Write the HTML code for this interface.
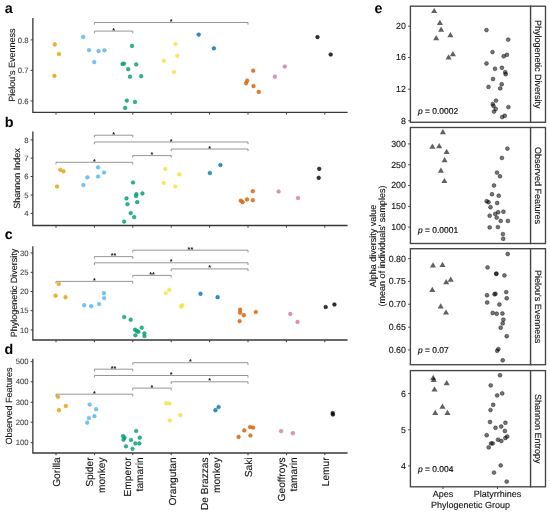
<!DOCTYPE html>
<html><head><meta charset="utf-8"><style>
*{margin:0;padding:0}
html,body{width:550px;height:514px;background:#fff;overflow:hidden}
svg{display:block;filter:blur(0.35px)}
text{font-family:"Liberation Sans",sans-serif;text-rendering:geometricPrecision}
.tk{font-size:7.7px;fill:#444;stroke:#444;stroke-width:0.1px;text-anchor:end}
.yt{font-size:9px;fill:#111;stroke:#111;stroke-width:0.1px;text-anchor:middle}
.st{font-size:7.2px;font-weight:bold;fill:#111;text-anchor:middle}
.pl{font-size:14.3px;font-weight:bold;fill:#000}
.xl{font-size:10.2px;fill:#111;stroke:#111;stroke-width:0.12px;text-anchor:end}
.sx{font-size:9px;fill:#111;stroke:#111;stroke-width:0.12px;text-anchor:middle}
.tke{font-size:8.8px;fill:#111;stroke:#111;stroke-width:0.12px;text-anchor:end}
.pv{font-size:8.45px;fill:#000;stroke:#000;stroke-width:0.15px}
.ex{font-size:9px;fill:#111;stroke:#111;stroke-width:0.12px;text-anchor:middle}
</style></head>
<body><svg width="550" height="514" viewBox="0 0 550 514">
<path d="M32.85 18.0V112.3H347.6" fill="none" stroke="#383838" stroke-width="1.3"/>
<path d="M30.65 39.9H32.85" stroke="#383838" stroke-width="1"/>
<text x="28.55" y="42.5" class="tk">0.8</text>
<path d="M30.65 70.4H32.85" stroke="#383838" stroke-width="1"/>
<text x="28.55" y="73.0" class="tk">0.7</text>
<path d="M30.65 101.0H32.85" stroke="#383838" stroke-width="1"/>
<text x="28.55" y="103.6" class="tk">0.6</text>
<path d="M56.0 112.3V114.5" stroke="#383838" stroke-width="1"/>
<path d="M94.4 112.3V114.5" stroke="#383838" stroke-width="1"/>
<path d="M132.8 112.3V114.5" stroke="#383838" stroke-width="1"/>
<path d="M171.2 112.3V114.5" stroke="#383838" stroke-width="1"/>
<path d="M209.6 112.3V114.5" stroke="#383838" stroke-width="1"/>
<path d="M248.0 112.3V114.5" stroke="#383838" stroke-width="1"/>
<path d="M286.4 112.3V114.5" stroke="#383838" stroke-width="1"/>
<path d="M324.8 112.3V114.5" stroke="#383838" stroke-width="1"/>
<text transform="translate(14.7 65.2) rotate(-90)" class="yt">Pielou's Evenness</text>
<path d="M94.4 24.7V22.5H248.0V24.7" fill="none" stroke="#8a8a8a" stroke-width="0.9"/>
<text x="171.2" y="24.0" class="st">*</text>
<path d="M94.4 33.3V31.1H132.8V33.3" fill="none" stroke="#8a8a8a" stroke-width="0.9"/>
<text x="113.6" y="32.6" class="st">*</text>
<circle cx="54.8" cy="44.4" r="1.85" fill="#E69F00" fill-opacity="0.8" stroke="#E69F00" stroke-opacity="0.8" stroke-width="0.6"/>
<circle cx="59" cy="54" r="1.85" fill="#E69F00" fill-opacity="0.8" stroke="#E69F00" stroke-opacity="0.8" stroke-width="0.6"/>
<circle cx="54.4" cy="75.8" r="1.85" fill="#E69F00" fill-opacity="0.8" stroke="#E69F00" stroke-opacity="0.8" stroke-width="0.6"/>
<circle cx="83.2" cy="36.9" r="1.85" fill="#56B4E9" fill-opacity="0.8" stroke="#56B4E9" stroke-opacity="0.8" stroke-width="0.6"/>
<circle cx="89" cy="50.1" r="1.85" fill="#56B4E9" fill-opacity="0.8" stroke="#56B4E9" stroke-opacity="0.8" stroke-width="0.6"/>
<circle cx="98.5" cy="51.1" r="1.85" fill="#56B4E9" fill-opacity="0.8" stroke="#56B4E9" stroke-opacity="0.8" stroke-width="0.6"/>
<circle cx="104.5" cy="50.3" r="1.85" fill="#56B4E9" fill-opacity="0.8" stroke="#56B4E9" stroke-opacity="0.8" stroke-width="0.6"/>
<circle cx="94.2" cy="62.1" r="1.85" fill="#56B4E9" fill-opacity="0.8" stroke="#56B4E9" stroke-opacity="0.8" stroke-width="0.6"/>
<circle cx="132" cy="45.9" r="1.85" fill="#009E73" fill-opacity="0.8" stroke="#009E73" stroke-opacity="0.8" stroke-width="0.6"/>
<circle cx="122.5" cy="64" r="1.85" fill="#009E73" fill-opacity="0.8" stroke="#009E73" stroke-opacity="0.8" stroke-width="0.6"/>
<circle cx="124" cy="63.6" r="1.85" fill="#009E73" fill-opacity="0.8" stroke="#009E73" stroke-opacity="0.8" stroke-width="0.6"/>
<circle cx="136.2" cy="64.4" r="1.85" fill="#009E73" fill-opacity="0.8" stroke="#009E73" stroke-opacity="0.8" stroke-width="0.6"/>
<circle cx="128.2" cy="69.2" r="1.85" fill="#009E73" fill-opacity="0.8" stroke="#009E73" stroke-opacity="0.8" stroke-width="0.6"/>
<circle cx="130" cy="76.7" r="1.85" fill="#009E73" fill-opacity="0.8" stroke="#009E73" stroke-opacity="0.8" stroke-width="0.6"/>
<circle cx="141.2" cy="76.2" r="1.85" fill="#009E73" fill-opacity="0.8" stroke="#009E73" stroke-opacity="0.8" stroke-width="0.6"/>
<circle cx="126.8" cy="100.6" r="1.85" fill="#009E73" fill-opacity="0.8" stroke="#009E73" stroke-opacity="0.8" stroke-width="0.6"/>
<circle cx="135" cy="101.9" r="1.85" fill="#009E73" fill-opacity="0.8" stroke="#009E73" stroke-opacity="0.8" stroke-width="0.6"/>
<circle cx="125.2" cy="107.9" r="1.85" fill="#009E73" fill-opacity="0.8" stroke="#009E73" stroke-opacity="0.8" stroke-width="0.6"/>
<circle cx="175.5" cy="44.1" r="1.85" fill="#F0E442" fill-opacity="0.8" stroke="#F0E442" stroke-opacity="0.8" stroke-width="0.6"/>
<circle cx="177.3" cy="55.8" r="1.85" fill="#F0E442" fill-opacity="0.8" stroke="#F0E442" stroke-opacity="0.8" stroke-width="0.6"/>
<circle cx="163.8" cy="60.8" r="1.85" fill="#F0E442" fill-opacity="0.8" stroke="#F0E442" stroke-opacity="0.8" stroke-width="0.6"/>
<circle cx="174" cy="72" r="1.85" fill="#F0E442" fill-opacity="0.8" stroke="#F0E442" stroke-opacity="0.8" stroke-width="0.6"/>
<circle cx="198.7" cy="34.6" r="1.85" fill="#0072B2" fill-opacity="0.8" stroke="#0072B2" stroke-opacity="0.8" stroke-width="0.6"/>
<circle cx="213.9" cy="48.3" r="1.85" fill="#0072B2" fill-opacity="0.8" stroke="#0072B2" stroke-opacity="0.8" stroke-width="0.6"/>
<circle cx="253.2" cy="70.7" r="1.85" fill="#D55E00" fill-opacity="0.8" stroke="#D55E00" stroke-opacity="0.8" stroke-width="0.6"/>
<circle cx="247.2" cy="80.7" r="1.85" fill="#D55E00" fill-opacity="0.8" stroke="#D55E00" stroke-opacity="0.8" stroke-width="0.6"/>
<circle cx="246" cy="83.3" r="1.85" fill="#D55E00" fill-opacity="0.8" stroke="#D55E00" stroke-opacity="0.8" stroke-width="0.6"/>
<circle cx="253.5" cy="86.1" r="1.85" fill="#D55E00" fill-opacity="0.8" stroke="#D55E00" stroke-opacity="0.8" stroke-width="0.6"/>
<circle cx="258.7" cy="91.9" r="1.85" fill="#D55E00" fill-opacity="0.8" stroke="#D55E00" stroke-opacity="0.8" stroke-width="0.6"/>
<circle cx="284.8" cy="66.5" r="1.85" fill="#CC79A7" fill-opacity="0.8" stroke="#CC79A7" stroke-opacity="0.8" stroke-width="0.6"/>
<circle cx="274.9" cy="76.7" r="1.85" fill="#CC79A7" fill-opacity="0.8" stroke="#CC79A7" stroke-opacity="0.8" stroke-width="0.6"/>
<circle cx="317.5" cy="37.1" r="1.85" fill="#000000" fill-opacity="0.8" stroke="#000000" stroke-opacity="0.8" stroke-width="0.6"/>
<circle cx="330.7" cy="54.5" r="1.85" fill="#000000" fill-opacity="0.8" stroke="#000000" stroke-opacity="0.8" stroke-width="0.6"/>
<path d="M32.85 131.4V225.5H347.6" fill="none" stroke="#383838" stroke-width="1.3"/>
<path d="M30.65 139.9H32.85" stroke="#383838" stroke-width="1"/>
<text x="28.55" y="142.5" class="tk">8</text>
<path d="M30.65 158.1H32.85" stroke="#383838" stroke-width="1"/>
<text x="28.55" y="160.7" class="tk">7</text>
<path d="M30.65 176.5H32.85" stroke="#383838" stroke-width="1"/>
<text x="28.55" y="179.1" class="tk">6</text>
<path d="M30.65 195H32.85" stroke="#383838" stroke-width="1"/>
<text x="28.55" y="197.6" class="tk">5</text>
<path d="M30.65 213.4H32.85" stroke="#383838" stroke-width="1"/>
<text x="28.55" y="216.0" class="tk">4</text>
<path d="M56.0 225.5V227.7" stroke="#383838" stroke-width="1"/>
<path d="M94.4 225.5V227.7" stroke="#383838" stroke-width="1"/>
<path d="M132.8 225.5V227.7" stroke="#383838" stroke-width="1"/>
<path d="M171.2 225.5V227.7" stroke="#383838" stroke-width="1"/>
<path d="M209.6 225.5V227.7" stroke="#383838" stroke-width="1"/>
<path d="M248.0 225.5V227.7" stroke="#383838" stroke-width="1"/>
<path d="M286.4 225.5V227.7" stroke="#383838" stroke-width="1"/>
<path d="M324.8 225.5V227.7" stroke="#383838" stroke-width="1"/>
<text transform="translate(19.6 178.4) rotate(-90)" class="yt">Shannon Index</text>
<path d="M94.4 137.4V135.2H132.8V137.4" fill="none" stroke="#8a8a8a" stroke-width="0.9"/>
<text x="113.6" y="136.7" class="st">*</text>
<path d="M94.4 144.2V142H248.0V144.2" fill="none" stroke="#8a8a8a" stroke-width="0.9"/>
<text x="171.2" y="143.5" class="st">*</text>
<path d="M171.2 151.2V149H248.0V151.2" fill="none" stroke="#8a8a8a" stroke-width="0.9"/>
<text x="209.6" y="150.5" class="st">*</text>
<path d="M132.8 157.8V155.6H171.2V157.8" fill="none" stroke="#8a8a8a" stroke-width="0.9"/>
<text x="152.0" y="157.1" class="st">*</text>
<path d="M56.0 164.5V162.3H132.8V164.5" fill="none" stroke="#8a8a8a" stroke-width="0.9"/>
<text x="94.4" y="163.8" class="st">*</text>
<circle cx="60.3" cy="169.8" r="1.85" fill="#E69F00" fill-opacity="0.8" stroke="#E69F00" stroke-opacity="0.8" stroke-width="0.6"/>
<circle cx="63.5" cy="171.3" r="1.85" fill="#E69F00" fill-opacity="0.8" stroke="#E69F00" stroke-opacity="0.8" stroke-width="0.6"/>
<circle cx="57" cy="186.5" r="1.85" fill="#E69F00" fill-opacity="0.8" stroke="#E69F00" stroke-opacity="0.8" stroke-width="0.6"/>
<circle cx="98.1" cy="167.3" r="1.85" fill="#56B4E9" fill-opacity="0.8" stroke="#56B4E9" stroke-opacity="0.8" stroke-width="0.6"/>
<circle cx="104.1" cy="172.5" r="1.85" fill="#56B4E9" fill-opacity="0.8" stroke="#56B4E9" stroke-opacity="0.8" stroke-width="0.6"/>
<circle cx="87.4" cy="177.3" r="1.85" fill="#56B4E9" fill-opacity="0.8" stroke="#56B4E9" stroke-opacity="0.8" stroke-width="0.6"/>
<circle cx="98.1" cy="176.5" r="1.85" fill="#56B4E9" fill-opacity="0.8" stroke="#56B4E9" stroke-opacity="0.8" stroke-width="0.6"/>
<circle cx="83.4" cy="185" r="1.85" fill="#56B4E9" fill-opacity="0.8" stroke="#56B4E9" stroke-opacity="0.8" stroke-width="0.6"/>
<circle cx="133" cy="182.5" r="1.85" fill="#009E73" fill-opacity="0.8" stroke="#009E73" stroke-opacity="0.8" stroke-width="0.6"/>
<circle cx="126.5" cy="198.4" r="1.85" fill="#009E73" fill-opacity="0.8" stroke="#009E73" stroke-opacity="0.8" stroke-width="0.6"/>
<circle cx="136.4" cy="194.2" r="1.85" fill="#009E73" fill-opacity="0.8" stroke="#009E73" stroke-opacity="0.8" stroke-width="0.6"/>
<circle cx="136" cy="196" r="1.85" fill="#009E73" fill-opacity="0.8" stroke="#009E73" stroke-opacity="0.8" stroke-width="0.6"/>
<circle cx="142.4" cy="193.4" r="1.85" fill="#009E73" fill-opacity="0.8" stroke="#009E73" stroke-opacity="0.8" stroke-width="0.6"/>
<circle cx="127.5" cy="204.2" r="1.85" fill="#009E73" fill-opacity="0.8" stroke="#009E73" stroke-opacity="0.8" stroke-width="0.6"/>
<circle cx="137.2" cy="202.2" r="1.85" fill="#009E73" fill-opacity="0.8" stroke="#009E73" stroke-opacity="0.8" stroke-width="0.6"/>
<circle cx="130.7" cy="213.1" r="1.85" fill="#009E73" fill-opacity="0.8" stroke="#009E73" stroke-opacity="0.8" stroke-width="0.6"/>
<circle cx="134.2" cy="217.1" r="1.85" fill="#009E73" fill-opacity="0.8" stroke="#009E73" stroke-opacity="0.8" stroke-width="0.6"/>
<circle cx="124.2" cy="221.6" r="1.85" fill="#009E73" fill-opacity="0.8" stroke="#009E73" stroke-opacity="0.8" stroke-width="0.6"/>
<circle cx="165.3" cy="169" r="1.85" fill="#F0E442" fill-opacity="0.8" stroke="#F0E442" stroke-opacity="0.8" stroke-width="0.6"/>
<circle cx="179.3" cy="174.3" r="1.85" fill="#F0E442" fill-opacity="0.8" stroke="#F0E442" stroke-opacity="0.8" stroke-width="0.6"/>
<circle cx="163.8" cy="183" r="1.85" fill="#F0E442" fill-opacity="0.8" stroke="#F0E442" stroke-opacity="0.8" stroke-width="0.6"/>
<circle cx="175.3" cy="186.5" r="1.85" fill="#F0E442" fill-opacity="0.8" stroke="#F0E442" stroke-opacity="0.8" stroke-width="0.6"/>
<circle cx="220.4" cy="165" r="1.85" fill="#0072B2" fill-opacity="0.8" stroke="#0072B2" stroke-opacity="0.8" stroke-width="0.6"/>
<circle cx="209.9" cy="173" r="1.85" fill="#0072B2" fill-opacity="0.8" stroke="#0072B2" stroke-opacity="0.8" stroke-width="0.6"/>
<circle cx="252.8" cy="191.2" r="1.85" fill="#D55E00" fill-opacity="0.8" stroke="#D55E00" stroke-opacity="0.8" stroke-width="0.6"/>
<circle cx="247" cy="199.4" r="1.85" fill="#D55E00" fill-opacity="0.8" stroke="#D55E00" stroke-opacity="0.8" stroke-width="0.6"/>
<circle cx="252.8" cy="200.2" r="1.85" fill="#D55E00" fill-opacity="0.8" stroke="#D55E00" stroke-opacity="0.8" stroke-width="0.6"/>
<circle cx="240.8" cy="200.7" r="1.85" fill="#D55E00" fill-opacity="0.8" stroke="#D55E00" stroke-opacity="0.8" stroke-width="0.6"/>
<circle cx="242.6" cy="202.2" r="1.85" fill="#D55E00" fill-opacity="0.8" stroke="#D55E00" stroke-opacity="0.8" stroke-width="0.6"/>
<circle cx="278.6" cy="191.5" r="1.85" fill="#CC79A7" fill-opacity="0.8" stroke="#CC79A7" stroke-opacity="0.8" stroke-width="0.6"/>
<circle cx="298" cy="198" r="1.85" fill="#CC79A7" fill-opacity="0.8" stroke="#CC79A7" stroke-opacity="0.8" stroke-width="0.6"/>
<circle cx="319.2" cy="168.8" r="1.85" fill="#000000" fill-opacity="0.8" stroke="#000000" stroke-opacity="0.8" stroke-width="0.6"/>
<circle cx="318.7" cy="177.8" r="1.85" fill="#000000" fill-opacity="0.8" stroke="#000000" stroke-opacity="0.8" stroke-width="0.6"/>
<path d="M32.85 246.2V340H347.6" fill="none" stroke="#383838" stroke-width="1.3"/>
<path d="M30.65 252.9H32.85" stroke="#383838" stroke-width="1"/>
<text x="28.55" y="255.5" class="tk">30</text>
<path d="M30.65 272.3H32.85" stroke="#383838" stroke-width="1"/>
<text x="28.55" y="274.9" class="tk">25</text>
<path d="M30.65 291.5H32.85" stroke="#383838" stroke-width="1"/>
<text x="28.55" y="294.1" class="tk">20</text>
<path d="M30.65 310.7H32.85" stroke="#383838" stroke-width="1"/>
<text x="28.55" y="313.3" class="tk">15</text>
<path d="M30.65 329.9H32.85" stroke="#383838" stroke-width="1"/>
<text x="28.55" y="332.5" class="tk">10</text>
<path d="M56.0 340V342.2" stroke="#383838" stroke-width="1"/>
<path d="M94.4 340V342.2" stroke="#383838" stroke-width="1"/>
<path d="M132.8 340V342.2" stroke="#383838" stroke-width="1"/>
<path d="M171.2 340V342.2" stroke="#383838" stroke-width="1"/>
<path d="M209.6 340V342.2" stroke="#383838" stroke-width="1"/>
<path d="M248.0 340V342.2" stroke="#383838" stroke-width="1"/>
<path d="M286.4 340V342.2" stroke="#383838" stroke-width="1"/>
<path d="M324.8 340V342.2" stroke="#383838" stroke-width="1"/>
<text transform="translate(17.1 293.1) rotate(-90)" class="yt">Phylogenetic Diversity</text>
<path d="M132.8 252.4V250.2H248.0V252.4" fill="none" stroke="#8a8a8a" stroke-width="0.9"/>
<text x="190.4" y="251.7" class="st">**</text>
<path d="M94.4 258.8V256.6H132.8V258.8" fill="none" stroke="#8a8a8a" stroke-width="0.9"/>
<text x="113.6" y="258.1" class="st">**</text>
<path d="M94.4 265.0V262.8H248.0V265.0" fill="none" stroke="#8a8a8a" stroke-width="0.9"/>
<text x="171.2" y="264.3" class="st">*</text>
<path d="M171.2 271.1V268.9H248.0V271.1" fill="none" stroke="#8a8a8a" stroke-width="0.9"/>
<text x="209.6" y="270.4" class="st">*</text>
<path d="M132.8 277.6V275.4H171.2V277.6" fill="none" stroke="#8a8a8a" stroke-width="0.9"/>
<text x="152.0" y="276.9" class="st">**</text>
<path d="M56.0 283.6V281.4H132.8V283.6" fill="none" stroke="#8a8a8a" stroke-width="0.9"/>
<text x="94.4" y="282.9" class="st">*</text>
<circle cx="58.8" cy="284" r="1.85" fill="#E69F00" fill-opacity="0.8" stroke="#E69F00" stroke-opacity="0.8" stroke-width="0.6"/>
<circle cx="55.5" cy="295.7" r="1.85" fill="#E69F00" fill-opacity="0.8" stroke="#E69F00" stroke-opacity="0.8" stroke-width="0.6"/>
<circle cx="65.5" cy="297.2" r="1.85" fill="#E69F00" fill-opacity="0.8" stroke="#E69F00" stroke-opacity="0.8" stroke-width="0.6"/>
<circle cx="103.9" cy="293.2" r="1.85" fill="#56B4E9" fill-opacity="0.8" stroke="#56B4E9" stroke-opacity="0.8" stroke-width="0.6"/>
<circle cx="104.1" cy="298" r="1.85" fill="#56B4E9" fill-opacity="0.8" stroke="#56B4E9" stroke-opacity="0.8" stroke-width="0.6"/>
<circle cx="84.2" cy="305.2" r="1.85" fill="#56B4E9" fill-opacity="0.8" stroke="#56B4E9" stroke-opacity="0.8" stroke-width="0.6"/>
<circle cx="91.2" cy="306.2" r="1.85" fill="#56B4E9" fill-opacity="0.8" stroke="#56B4E9" stroke-opacity="0.8" stroke-width="0.6"/>
<circle cx="99.1" cy="304" r="1.85" fill="#56B4E9" fill-opacity="0.8" stroke="#56B4E9" stroke-opacity="0.8" stroke-width="0.6"/>
<circle cx="124.2" cy="317" r="1.85" fill="#009E73" fill-opacity="0.8" stroke="#009E73" stroke-opacity="0.8" stroke-width="0.6"/>
<circle cx="130.7" cy="319.7" r="1.85" fill="#009E73" fill-opacity="0.8" stroke="#009E73" stroke-opacity="0.8" stroke-width="0.6"/>
<circle cx="135" cy="329.7" r="1.85" fill="#009E73" fill-opacity="0.8" stroke="#009E73" stroke-opacity="0.8" stroke-width="0.6"/>
<circle cx="136.7" cy="331" r="1.85" fill="#009E73" fill-opacity="0.8" stroke="#009E73" stroke-opacity="0.8" stroke-width="0.6"/>
<circle cx="138.4" cy="331.7" r="1.85" fill="#009E73" fill-opacity="0.8" stroke="#009E73" stroke-opacity="0.8" stroke-width="0.6"/>
<circle cx="141.7" cy="327.7" r="1.85" fill="#009E73" fill-opacity="0.8" stroke="#009E73" stroke-opacity="0.8" stroke-width="0.6"/>
<circle cx="144.4" cy="333.3" r="1.85" fill="#009E73" fill-opacity="0.8" stroke="#009E73" stroke-opacity="0.8" stroke-width="0.6"/>
<circle cx="144.4" cy="336.1" r="1.85" fill="#009E73" fill-opacity="0.8" stroke="#009E73" stroke-opacity="0.8" stroke-width="0.6"/>
<circle cx="135.4" cy="335.3" r="1.85" fill="#009E73" fill-opacity="0.8" stroke="#009E73" stroke-opacity="0.8" stroke-width="0.6"/>
<circle cx="169.3" cy="289.8" r="1.85" fill="#F0E442" fill-opacity="0.8" stroke="#F0E442" stroke-opacity="0.8" stroke-width="0.6"/>
<circle cx="165.8" cy="293" r="1.85" fill="#F0E442" fill-opacity="0.8" stroke="#F0E442" stroke-opacity="0.8" stroke-width="0.6"/>
<circle cx="182.3" cy="305.2" r="1.85" fill="#F0E442" fill-opacity="0.8" stroke="#F0E442" stroke-opacity="0.8" stroke-width="0.6"/>
<circle cx="181" cy="306.7" r="1.85" fill="#F0E442" fill-opacity="0.8" stroke="#F0E442" stroke-opacity="0.8" stroke-width="0.6"/>
<circle cx="200.5" cy="293.8" r="1.85" fill="#0072B2" fill-opacity="0.8" stroke="#0072B2" stroke-opacity="0.8" stroke-width="0.6"/>
<circle cx="217.6" cy="297.2" r="1.85" fill="#0072B2" fill-opacity="0.8" stroke="#0072B2" stroke-opacity="0.8" stroke-width="0.6"/>
<circle cx="240.1" cy="309.7" r="1.85" fill="#D55E00" fill-opacity="0.8" stroke="#D55E00" stroke-opacity="0.8" stroke-width="0.6"/>
<circle cx="240.1" cy="312.7" r="1.85" fill="#D55E00" fill-opacity="0.8" stroke="#D55E00" stroke-opacity="0.8" stroke-width="0.6"/>
<circle cx="243.8" cy="315.2" r="1.85" fill="#D55E00" fill-opacity="0.8" stroke="#D55E00" stroke-opacity="0.8" stroke-width="0.6"/>
<circle cx="239.6" cy="321.1" r="1.85" fill="#D55E00" fill-opacity="0.8" stroke="#D55E00" stroke-opacity="0.8" stroke-width="0.6"/>
<circle cx="255.8" cy="312" r="1.85" fill="#D55E00" fill-opacity="0.8" stroke="#D55E00" stroke-opacity="0.8" stroke-width="0.6"/>
<circle cx="290.3" cy="313.9" r="1.85" fill="#CC79A7" fill-opacity="0.8" stroke="#CC79A7" stroke-opacity="0.8" stroke-width="0.6"/>
<circle cx="297.5" cy="321.9" r="1.85" fill="#CC79A7" fill-opacity="0.8" stroke="#CC79A7" stroke-opacity="0.8" stroke-width="0.6"/>
<circle cx="325.7" cy="307" r="1.85" fill="#000000" fill-opacity="0.8" stroke="#000000" stroke-opacity="0.8" stroke-width="0.6"/>
<circle cx="334.4" cy="304.5" r="1.85" fill="#000000" fill-opacity="0.8" stroke="#000000" stroke-opacity="0.8" stroke-width="0.6"/>
<path d="M32.85 358.7V453H347.6" fill="none" stroke="#383838" stroke-width="1.3"/>
<path d="M30.65 361.7H32.85" stroke="#383838" stroke-width="1"/>
<text x="28.55" y="364.3" class="tk">500</text>
<path d="M30.65 381.8H32.85" stroke="#383838" stroke-width="1"/>
<text x="28.55" y="384.4" class="tk">400</text>
<path d="M30.65 402.3H32.85" stroke="#383838" stroke-width="1"/>
<text x="28.55" y="404.9" class="tk">300</text>
<path d="M30.65 422.2H32.85" stroke="#383838" stroke-width="1"/>
<text x="28.55" y="424.8" class="tk">200</text>
<path d="M30.65 442.7H32.85" stroke="#383838" stroke-width="1"/>
<text x="28.55" y="445.3" class="tk">100</text>
<path d="M56.0 453V455.2" stroke="#383838" stroke-width="1"/>
<path d="M94.4 453V455.2" stroke="#383838" stroke-width="1"/>
<path d="M132.8 453V455.2" stroke="#383838" stroke-width="1"/>
<path d="M171.2 453V455.2" stroke="#383838" stroke-width="1"/>
<path d="M209.6 453V455.2" stroke="#383838" stroke-width="1"/>
<path d="M248.0 453V455.2" stroke="#383838" stroke-width="1"/>
<path d="M286.4 453V455.2" stroke="#383838" stroke-width="1"/>
<path d="M324.8 453V455.2" stroke="#383838" stroke-width="1"/>
<text transform="translate(12.4 405.9) rotate(-90)" class="yt">Observed Features</text>
<path d="M132.8 364.9V362.7H248.0V364.9" fill="none" stroke="#8a8a8a" stroke-width="0.9"/>
<text x="190.4" y="364.2" class="st">*</text>
<path d="M94.4 371.4V369.2H132.8V371.4" fill="none" stroke="#8a8a8a" stroke-width="0.9"/>
<text x="113.6" y="370.7" class="st">**</text>
<path d="M94.4 377.7V375.5H248.0V377.7" fill="none" stroke="#8a8a8a" stroke-width="0.9"/>
<text x="171.2" y="377.0" class="st">*</text>
<path d="M171.2 384.0V381.8H248.0V384.0" fill="none" stroke="#8a8a8a" stroke-width="0.9"/>
<text x="209.6" y="383.3" class="st">*</text>
<path d="M132.8 390.3V388.1H171.2V390.3" fill="none" stroke="#8a8a8a" stroke-width="0.9"/>
<text x="152.0" y="389.6" class="st">*</text>
<path d="M56.0 396.4V394.2H132.8V396.4" fill="none" stroke="#8a8a8a" stroke-width="0.9"/>
<text x="94.4" y="395.7" class="st">*</text>
<circle cx="58" cy="396.8" r="1.85" fill="#E69F00" fill-opacity="0.8" stroke="#E69F00" stroke-opacity="0.8" stroke-width="0.6"/>
<circle cx="65.8" cy="406" r="1.85" fill="#E69F00" fill-opacity="0.8" stroke="#E69F00" stroke-opacity="0.8" stroke-width="0.6"/>
<circle cx="59" cy="410.2" r="1.85" fill="#E69F00" fill-opacity="0.8" stroke="#E69F00" stroke-opacity="0.8" stroke-width="0.6"/>
<circle cx="89.7" cy="404.5" r="1.85" fill="#56B4E9" fill-opacity="0.8" stroke="#56B4E9" stroke-opacity="0.8" stroke-width="0.6"/>
<circle cx="96.1" cy="409.2" r="1.85" fill="#56B4E9" fill-opacity="0.8" stroke="#56B4E9" stroke-opacity="0.8" stroke-width="0.6"/>
<circle cx="94.4" cy="416.2" r="1.85" fill="#56B4E9" fill-opacity="0.8" stroke="#56B4E9" stroke-opacity="0.8" stroke-width="0.6"/>
<circle cx="88.9" cy="418" r="1.85" fill="#56B4E9" fill-opacity="0.8" stroke="#56B4E9" stroke-opacity="0.8" stroke-width="0.6"/>
<circle cx="87.2" cy="422.7" r="1.85" fill="#56B4E9" fill-opacity="0.8" stroke="#56B4E9" stroke-opacity="0.8" stroke-width="0.6"/>
<circle cx="136.2" cy="431" r="1.85" fill="#009E73" fill-opacity="0.8" stroke="#009E73" stroke-opacity="0.8" stroke-width="0.6"/>
<circle cx="123" cy="436" r="1.85" fill="#009E73" fill-opacity="0.8" stroke="#009E73" stroke-opacity="0.8" stroke-width="0.6"/>
<circle cx="124.5" cy="437.7" r="1.85" fill="#009E73" fill-opacity="0.8" stroke="#009E73" stroke-opacity="0.8" stroke-width="0.6"/>
<circle cx="123.5" cy="439.7" r="1.85" fill="#009E73" fill-opacity="0.8" stroke="#009E73" stroke-opacity="0.8" stroke-width="0.6"/>
<circle cx="131" cy="440" r="1.85" fill="#009E73" fill-opacity="0.8" stroke="#009E73" stroke-opacity="0.8" stroke-width="0.6"/>
<circle cx="139.7" cy="437.7" r="1.85" fill="#009E73" fill-opacity="0.8" stroke="#009E73" stroke-opacity="0.8" stroke-width="0.6"/>
<circle cx="135.4" cy="443.4" r="1.85" fill="#009E73" fill-opacity="0.8" stroke="#009E73" stroke-opacity="0.8" stroke-width="0.6"/>
<circle cx="139.4" cy="443.4" r="1.85" fill="#009E73" fill-opacity="0.8" stroke="#009E73" stroke-opacity="0.8" stroke-width="0.6"/>
<circle cx="126" cy="446.3" r="1.85" fill="#009E73" fill-opacity="0.8" stroke="#009E73" stroke-opacity="0.8" stroke-width="0.6"/>
<circle cx="132.5" cy="448.8" r="1.85" fill="#009E73" fill-opacity="0.8" stroke="#009E73" stroke-opacity="0.8" stroke-width="0.6"/>
<circle cx="166.1" cy="403.2" r="1.85" fill="#F0E442" fill-opacity="0.8" stroke="#F0E442" stroke-opacity="0.8" stroke-width="0.6"/>
<circle cx="169.3" cy="403.5" r="1.85" fill="#F0E442" fill-opacity="0.8" stroke="#F0E442" stroke-opacity="0.8" stroke-width="0.6"/>
<circle cx="180.3" cy="415.2" r="1.85" fill="#F0E442" fill-opacity="0.8" stroke="#F0E442" stroke-opacity="0.8" stroke-width="0.6"/>
<circle cx="169.8" cy="420.4" r="1.85" fill="#F0E442" fill-opacity="0.8" stroke="#F0E442" stroke-opacity="0.8" stroke-width="0.6"/>
<circle cx="218.6" cy="407" r="1.85" fill="#0072B2" fill-opacity="0.8" stroke="#0072B2" stroke-opacity="0.8" stroke-width="0.6"/>
<circle cx="215.4" cy="410.2" r="1.85" fill="#0072B2" fill-opacity="0.8" stroke="#0072B2" stroke-opacity="0.8" stroke-width="0.6"/>
<circle cx="250" cy="427" r="1.85" fill="#D55E00" fill-opacity="0.8" stroke="#D55E00" stroke-opacity="0.8" stroke-width="0.6"/>
<circle cx="253.1" cy="427.6" r="1.85" fill="#D55E00" fill-opacity="0.8" stroke="#D55E00" stroke-opacity="0.8" stroke-width="0.6"/>
<circle cx="244.3" cy="430.4" r="1.85" fill="#D55E00" fill-opacity="0.8" stroke="#D55E00" stroke-opacity="0.8" stroke-width="0.6"/>
<circle cx="250.4" cy="435.5" r="1.85" fill="#D55E00" fill-opacity="0.8" stroke="#D55E00" stroke-opacity="0.8" stroke-width="0.6"/>
<circle cx="238.6" cy="436.9" r="1.85" fill="#D55E00" fill-opacity="0.8" stroke="#D55E00" stroke-opacity="0.8" stroke-width="0.6"/>
<circle cx="281.1" cy="431" r="1.85" fill="#CC79A7" fill-opacity="0.8" stroke="#CC79A7" stroke-opacity="0.8" stroke-width="0.6"/>
<circle cx="292.8" cy="433.2" r="1.85" fill="#CC79A7" fill-opacity="0.8" stroke="#CC79A7" stroke-opacity="0.8" stroke-width="0.6"/>
<circle cx="332.7" cy="413" r="1.85" fill="#000000" fill-opacity="0.8" stroke="#000000" stroke-opacity="0.8" stroke-width="0.6"/>
<circle cx="332.9" cy="414.5" r="1.85" fill="#000000" fill-opacity="0.8" stroke="#000000" stroke-opacity="0.8" stroke-width="0.6"/>
<text x="4.7" y="12.7" class="pl">a</text>
<text x="4.7" y="126.5" class="pl">b</text>
<text x="4.7" y="238.8" class="pl">c</text>
<text x="4.5" y="353.5" class="pl">d</text>
<text x="374.6" y="12.5" class="pl">e</text>
<text transform="translate(60.3 457.4) rotate(-90)" class="xl">Gorilla</text>
<text transform="translate(92.5 457.4) rotate(-90)" class="xl">Spider</text>
<text transform="translate(104.5 457.4) rotate(-90)" class="xl">monkey</text>
<text transform="translate(130.9 457.4) rotate(-90)" class="xl">Emperor</text>
<text transform="translate(142.9 457.4) rotate(-90)" class="xl">tamarin</text>
<text transform="translate(175.5 457.4) rotate(-90)" class="xl">Orangutan</text>
<text transform="translate(207.7 457.4) rotate(-90)" class="xl">De Brazzas</text>
<text transform="translate(219.7 457.4) rotate(-90)" class="xl">monkey</text>
<text transform="translate(252.3 457.4) rotate(-90)" class="xl">Saki</text>
<text transform="translate(284.5 457.4) rotate(-90)" class="xl">Geoffroys</text>
<text transform="translate(296.5 457.4) rotate(-90)" class="xl">tamarin</text>
<text transform="translate(329.1 457.4) rotate(-90)" class="xl">Lemur</text>
<rect x="410.4" y="6.2" width="120.2" height="116.1" fill="none" stroke="#444444" stroke-width="1.35"/>
<rect x="530.6" y="6.2" width="14.9" height="116.1" fill="#fff" stroke="#444444" stroke-width="1.35"/>
<text transform="translate(534.5 64.2) rotate(90)" class="sx">Phylogenetic Diversity</text>
<path d="M408.2 26.2H410.4" stroke="#444444" stroke-width="1"/>
<text x="405.9" y="29.1" class="tke">20</text>
<path d="M408.2 57.5H410.4" stroke="#444444" stroke-width="1"/>
<text x="405.9" y="60.4" class="tke">16</text>
<path d="M408.2 89.2H410.4" stroke="#444444" stroke-width="1"/>
<text x="405.9" y="92.1" class="tke">12</text>
<path d="M408.2 120.8H410.4" stroke="#444444" stroke-width="1"/>
<text x="405.9" y="123.7" class="tke">8</text>
<text x="418" y="113.9" class="pv"><tspan font-style="italic">p</tspan> = 0.0002</text>
<path d="M434.2 7.90L437.25 13.10H431.15Z" fill="#000" fill-opacity="0.62"/>
<path d="M439.9 19.80L442.95 25.00H436.85Z" fill="#000" fill-opacity="0.62"/>
<path d="M441.1 26.50L444.15 31.70H438.05Z" fill="#000" fill-opacity="0.62"/>
<path d="M436.2 35.00L439.25 40.20H433.15Z" fill="#000" fill-opacity="0.62"/>
<path d="M450.4 32.00L453.45 37.20H447.35Z" fill="#000" fill-opacity="0.62"/>
<path d="M448.6 54.20L451.65 59.40H445.55Z" fill="#000" fill-opacity="0.62"/>
<path d="M452.9 51.00L455.95 56.20H449.85Z" fill="#000" fill-opacity="0.62"/>
<circle cx="486.5" cy="30.1" r="1.95" fill="#000" fill-opacity="0.55" stroke="#000" stroke-opacity="0.55" stroke-width="0.7"/>
<circle cx="508.2" cy="39.6" r="1.95" fill="#000" fill-opacity="0.55" stroke="#000" stroke-opacity="0.55" stroke-width="0.7"/>
<circle cx="492.5" cy="52.1" r="1.95" fill="#000" fill-opacity="0.55" stroke="#000" stroke-opacity="0.55" stroke-width="0.7"/>
<circle cx="506.9" cy="54.8" r="1.95" fill="#000" fill-opacity="0.55" stroke="#000" stroke-opacity="0.55" stroke-width="0.7"/>
<circle cx="503.7" cy="56.3" r="1.95" fill="#000" fill-opacity="0.55" stroke="#000" stroke-opacity="0.55" stroke-width="0.7"/>
<circle cx="486.5" cy="63.5" r="1.95" fill="#000" fill-opacity="0.55" stroke="#000" stroke-opacity="0.55" stroke-width="0.7"/>
<circle cx="495" cy="68.8" r="1.95" fill="#000" fill-opacity="0.55" stroke="#000" stroke-opacity="0.55" stroke-width="0.7"/>
<circle cx="501.9" cy="67.8" r="1.95" fill="#000" fill-opacity="0.55" stroke="#000" stroke-opacity="0.55" stroke-width="0.7"/>
<circle cx="505.2" cy="72.2" r="1.95" fill="#000" fill-opacity="0.55" stroke="#000" stroke-opacity="0.55" stroke-width="0.7"/>
<circle cx="505.7" cy="74.2" r="1.95" fill="#000" fill-opacity="0.55" stroke="#000" stroke-opacity="0.55" stroke-width="0.7"/>
<circle cx="493" cy="79" r="1.95" fill="#000" fill-opacity="0.55" stroke="#000" stroke-opacity="0.55" stroke-width="0.7"/>
<circle cx="501.7" cy="84.2" r="1.95" fill="#000" fill-opacity="0.55" stroke="#000" stroke-opacity="0.55" stroke-width="0.7"/>
<circle cx="488.5" cy="86.9" r="1.95" fill="#000" fill-opacity="0.55" stroke="#000" stroke-opacity="0.55" stroke-width="0.7"/>
<circle cx="500.2" cy="88.4" r="1.95" fill="#000" fill-opacity="0.55" stroke="#000" stroke-opacity="0.55" stroke-width="0.7"/>
<circle cx="496" cy="100.6" r="1.95" fill="#000" fill-opacity="0.55" stroke="#000" stroke-opacity="0.55" stroke-width="0.7"/>
<circle cx="492.7" cy="104.1" r="1.95" fill="#000" fill-opacity="0.55" stroke="#000" stroke-opacity="0.55" stroke-width="0.7"/>
<circle cx="493.5" cy="105.9" r="1.95" fill="#000" fill-opacity="0.55" stroke="#000" stroke-opacity="0.55" stroke-width="0.7"/>
<circle cx="495.7" cy="108.9" r="1.95" fill="#000" fill-opacity="0.55" stroke="#000" stroke-opacity="0.55" stroke-width="0.7"/>
<circle cx="508.4" cy="107.1" r="1.95" fill="#000" fill-opacity="0.55" stroke="#000" stroke-opacity="0.55" stroke-width="0.7"/>
<circle cx="494" cy="111.6" r="1.95" fill="#000" fill-opacity="0.55" stroke="#000" stroke-opacity="0.55" stroke-width="0.7"/>
<circle cx="502.2" cy="117.1" r="1.95" fill="#000" fill-opacity="0.55" stroke="#000" stroke-opacity="0.55" stroke-width="0.7"/>
<circle cx="504.7" cy="115.8" r="1.95" fill="#000" fill-opacity="0.55" stroke="#000" stroke-opacity="0.55" stroke-width="0.7"/>
<rect x="410.4" y="127.5" width="120.2" height="116.0" fill="none" stroke="#444444" stroke-width="1.35"/>
<rect x="530.6" y="127.5" width="14.9" height="116.0" fill="#fff" stroke="#444444" stroke-width="1.35"/>
<text transform="translate(534.5 185.5) rotate(90)" class="sx">Observed Features</text>
<path d="M408.2 143.9H410.4" stroke="#444444" stroke-width="1"/>
<text x="405.9" y="146.8" class="tke">300</text>
<path d="M408.2 164.8H410.4" stroke="#444444" stroke-width="1"/>
<text x="405.9" y="167.7" class="tke">250</text>
<path d="M408.2 185.5H410.4" stroke="#444444" stroke-width="1"/>
<text x="405.9" y="188.4" class="tke">200</text>
<path d="M408.2 206.4H410.4" stroke="#444444" stroke-width="1"/>
<text x="405.9" y="209.3" class="tke">150</text>
<path d="M408.2 227.1H410.4" stroke="#444444" stroke-width="1"/>
<text x="405.9" y="230.0" class="tke">100</text>
<text x="418" y="232.5" class="pv"><tspan font-style="italic">p</tspan> = 0.0001</text>
<path d="M442.9 129.10L445.95 134.30H439.85Z" fill="#000" fill-opacity="0.62"/>
<path d="M432.4 143.60L435.45 148.80H429.35Z" fill="#000" fill-opacity="0.62"/>
<path d="M439.2 143.10L442.25 148.30H436.15Z" fill="#000" fill-opacity="0.62"/>
<path d="M446.6 148.80L449.65 154.00H443.55Z" fill="#000" fill-opacity="0.62"/>
<path d="M444.6 157.00L447.65 162.20H441.55Z" fill="#000" fill-opacity="0.62"/>
<path d="M440.9 167.50L443.95 172.70H437.85Z" fill="#000" fill-opacity="0.62"/>
<path d="M444.4 177.90L447.45 183.10H441.35Z" fill="#000" fill-opacity="0.62"/>
<circle cx="507.4" cy="148.6" r="1.95" fill="#000" fill-opacity="0.55" stroke="#000" stroke-opacity="0.55" stroke-width="0.7"/>
<circle cx="501.9" cy="157.9" r="1.95" fill="#000" fill-opacity="0.55" stroke="#000" stroke-opacity="0.55" stroke-width="0.7"/>
<circle cx="497" cy="172.6" r="1.95" fill="#000" fill-opacity="0.55" stroke="#000" stroke-opacity="0.55" stroke-width="0.7"/>
<circle cx="500" cy="176.3" r="1.95" fill="#000" fill-opacity="0.55" stroke="#000" stroke-opacity="0.55" stroke-width="0.7"/>
<circle cx="494" cy="185.5" r="1.95" fill="#000" fill-opacity="0.55" stroke="#000" stroke-opacity="0.55" stroke-width="0.7"/>
<circle cx="492" cy="194.2" r="1.95" fill="#000" fill-opacity="0.55" stroke="#000" stroke-opacity="0.55" stroke-width="0.7"/>
<circle cx="498.7" cy="195.7" r="1.95" fill="#000" fill-opacity="0.55" stroke="#000" stroke-opacity="0.55" stroke-width="0.7"/>
<circle cx="486.7" cy="201.2" r="1.95" fill="#000" fill-opacity="0.55" stroke="#000" stroke-opacity="0.55" stroke-width="0.7"/>
<circle cx="488.5" cy="202.2" r="1.95" fill="#000" fill-opacity="0.55" stroke="#000" stroke-opacity="0.55" stroke-width="0.7"/>
<circle cx="497.2" cy="203" r="1.95" fill="#000" fill-opacity="0.55" stroke="#000" stroke-opacity="0.55" stroke-width="0.7"/>
<circle cx="490.5" cy="207.2" r="1.95" fill="#000" fill-opacity="0.55" stroke="#000" stroke-opacity="0.55" stroke-width="0.7"/>
<circle cx="503.4" cy="211.7" r="1.95" fill="#000" fill-opacity="0.55" stroke="#000" stroke-opacity="0.55" stroke-width="0.7"/>
<circle cx="498.2" cy="212.2" r="1.95" fill="#000" fill-opacity="0.55" stroke="#000" stroke-opacity="0.55" stroke-width="0.7"/>
<circle cx="495.2" cy="213.9" r="1.95" fill="#000" fill-opacity="0.55" stroke="#000" stroke-opacity="0.55" stroke-width="0.7"/>
<circle cx="489.7" cy="215.7" r="1.95" fill="#000" fill-opacity="0.55" stroke="#000" stroke-opacity="0.55" stroke-width="0.7"/>
<circle cx="496.7" cy="217.6" r="1.95" fill="#000" fill-opacity="0.55" stroke="#000" stroke-opacity="0.55" stroke-width="0.7"/>
<circle cx="500.7" cy="220.9" r="1.95" fill="#000" fill-opacity="0.55" stroke="#000" stroke-opacity="0.55" stroke-width="0.7"/>
<circle cx="507.9" cy="220.9" r="1.95" fill="#000" fill-opacity="0.55" stroke="#000" stroke-opacity="0.55" stroke-width="0.7"/>
<circle cx="489.7" cy="227.4" r="1.95" fill="#000" fill-opacity="0.55" stroke="#000" stroke-opacity="0.55" stroke-width="0.7"/>
<circle cx="497.9" cy="227.1" r="1.95" fill="#000" fill-opacity="0.55" stroke="#000" stroke-opacity="0.55" stroke-width="0.7"/>
<circle cx="502.9" cy="234.1" r="1.95" fill="#000" fill-opacity="0.55" stroke="#000" stroke-opacity="0.55" stroke-width="0.7"/>
<circle cx="503.2" cy="238.8" r="1.95" fill="#000" fill-opacity="0.55" stroke="#000" stroke-opacity="0.55" stroke-width="0.7"/>
<rect x="410.4" y="248.7" width="120.2" height="116.0" fill="none" stroke="#444444" stroke-width="1.35"/>
<rect x="530.6" y="248.7" width="14.9" height="116.0" fill="#fff" stroke="#444444" stroke-width="1.35"/>
<text transform="translate(534.5 306.7) rotate(90)" class="sx">Pielou's Evenness</text>
<path d="M408.2 258.7H410.4" stroke="#444444" stroke-width="1"/>
<text x="405.9" y="261.6" class="tke">0.80</text>
<path d="M408.2 281.4H410.4" stroke="#444444" stroke-width="1"/>
<text x="405.9" y="284.3" class="tke">0.75</text>
<path d="M408.2 304.3H410.4" stroke="#444444" stroke-width="1"/>
<text x="405.9" y="307.2" class="tke">0.70</text>
<path d="M408.2 327.2H410.4" stroke="#444444" stroke-width="1"/>
<text x="405.9" y="330.1" class="tke">0.65</text>
<path d="M408.2 349.9H410.4" stroke="#444444" stroke-width="1"/>
<text x="405.9" y="352.8" class="tke">0.60</text>
<text x="418" y="352.6" class="pv"><tspan font-style="italic">p</tspan> = 0.07</text>
<path d="M433 262.30L436.05 267.50H429.95Z" fill="#000" fill-opacity="0.62"/>
<path d="M442.5 261.80L445.55 267.00H439.45Z" fill="#000" fill-opacity="0.62"/>
<path d="M446.2 279.00L449.25 284.20H443.15Z" fill="#000" fill-opacity="0.62"/>
<path d="M450.7 276.50L453.75 281.70H447.65Z" fill="#000" fill-opacity="0.62"/>
<path d="M432.3 286.70L435.35 291.90H429.25Z" fill="#000" fill-opacity="0.62"/>
<path d="M440.7 303.20L443.75 308.40H437.65Z" fill="#000" fill-opacity="0.62"/>
<path d="M446 309.40L449.05 314.60H442.95Z" fill="#000" fill-opacity="0.62"/>
<circle cx="507.7" cy="254" r="1.95" fill="#000" fill-opacity="0.55" stroke="#000" stroke-opacity="0.55" stroke-width="0.7"/>
<circle cx="487.5" cy="267.4" r="1.95" fill="#000" fill-opacity="0.55" stroke="#000" stroke-opacity="0.55" stroke-width="0.7"/>
<circle cx="496.2" cy="273.9" r="1.95" fill="#000" fill-opacity="0.55" stroke="#000" stroke-opacity="0.55" stroke-width="0.7"/>
<circle cx="496.4" cy="273.6" r="1.95" fill="#000" fill-opacity="0.55" stroke="#000" stroke-opacity="0.55" stroke-width="0.7"/>
<circle cx="504.4" cy="275.4" r="1.95" fill="#000" fill-opacity="0.55" stroke="#000" stroke-opacity="0.55" stroke-width="0.7"/>
<circle cx="487" cy="295.3" r="1.95" fill="#000" fill-opacity="0.55" stroke="#000" stroke-opacity="0.55" stroke-width="0.7"/>
<circle cx="494.5" cy="294.3" r="1.95" fill="#000" fill-opacity="0.55" stroke="#000" stroke-opacity="0.55" stroke-width="0.7"/>
<circle cx="495.5" cy="293.8" r="1.95" fill="#000" fill-opacity="0.55" stroke="#000" stroke-opacity="0.55" stroke-width="0.7"/>
<circle cx="506.2" cy="292.1" r="1.95" fill="#000" fill-opacity="0.55" stroke="#000" stroke-opacity="0.55" stroke-width="0.7"/>
<circle cx="506.7" cy="298.3" r="1.95" fill="#000" fill-opacity="0.55" stroke="#000" stroke-opacity="0.55" stroke-width="0.7"/>
<circle cx="487.2" cy="302.5" r="1.95" fill="#000" fill-opacity="0.55" stroke="#000" stroke-opacity="0.55" stroke-width="0.7"/>
<circle cx="499.4" cy="304.5" r="1.95" fill="#000" fill-opacity="0.55" stroke="#000" stroke-opacity="0.55" stroke-width="0.7"/>
<circle cx="492.7" cy="313" r="1.95" fill="#000" fill-opacity="0.55" stroke="#000" stroke-opacity="0.55" stroke-width="0.7"/>
<circle cx="496.7" cy="313.7" r="1.95" fill="#000" fill-opacity="0.55" stroke="#000" stroke-opacity="0.55" stroke-width="0.7"/>
<circle cx="502.4" cy="313.5" r="1.95" fill="#000" fill-opacity="0.55" stroke="#000" stroke-opacity="0.55" stroke-width="0.7"/>
<circle cx="503.4" cy="319.7" r="1.95" fill="#000" fill-opacity="0.55" stroke="#000" stroke-opacity="0.55" stroke-width="0.7"/>
<circle cx="502.7" cy="323.4" r="1.95" fill="#000" fill-opacity="0.55" stroke="#000" stroke-opacity="0.55" stroke-width="0.7"/>
<circle cx="500.7" cy="327.7" r="1.95" fill="#000" fill-opacity="0.55" stroke="#000" stroke-opacity="0.55" stroke-width="0.7"/>
<circle cx="506.7" cy="336.2" r="1.95" fill="#000" fill-opacity="0.55" stroke="#000" stroke-opacity="0.55" stroke-width="0.7"/>
<circle cx="497.2" cy="350.8" r="1.95" fill="#000" fill-opacity="0.55" stroke="#000" stroke-opacity="0.55" stroke-width="0.7"/>
<circle cx="498.4" cy="349.1" r="1.95" fill="#000" fill-opacity="0.55" stroke="#000" stroke-opacity="0.55" stroke-width="0.7"/>
<circle cx="502.7" cy="360.3" r="1.95" fill="#000" fill-opacity="0.55" stroke="#000" stroke-opacity="0.55" stroke-width="0.7"/>
<rect x="410.4" y="370.6" width="120.2" height="116.2" fill="none" stroke="#444444" stroke-width="1.35"/>
<rect x="530.6" y="370.6" width="14.9" height="116.2" fill="#fff" stroke="#444444" stroke-width="1.35"/>
<text transform="translate(534.5 428.7) rotate(90)" class="sx">Shannon Entropy</text>
<path d="M408.2 393.6H410.4" stroke="#444444" stroke-width="1"/>
<text x="405.9" y="396.5" class="tke">6</text>
<path d="M408.2 429.8H410.4" stroke="#444444" stroke-width="1"/>
<text x="405.9" y="432.7" class="tke">5</text>
<path d="M408.2 465.9H410.4" stroke="#444444" stroke-width="1"/>
<text x="405.9" y="468.8" class="tke">4</text>
<text x="418" y="472.0" class="pv"><tspan font-style="italic">p</tspan> = 0.004</text>
<path d="M433.2 374.80L436.25 380.00H430.15Z" fill="#000" fill-opacity="0.62"/>
<path d="M433.7 376.80L436.75 382.00H430.65Z" fill="#000" fill-opacity="0.62"/>
<path d="M446.7 380.10L449.75 385.30H443.65Z" fill="#000" fill-opacity="0.62"/>
<path d="M434.5 386.30L437.55 391.50H431.45Z" fill="#000" fill-opacity="0.62"/>
<path d="M442.5 403.50L445.55 408.70H439.45Z" fill="#000" fill-opacity="0.62"/>
<path d="M435.2 409.70L438.25 414.90H432.15Z" fill="#000" fill-opacity="0.62"/>
<path d="M447.5 409.70L450.55 414.90H444.45Z" fill="#000" fill-opacity="0.62"/>
<circle cx="500" cy="375.2" r="1.95" fill="#000" fill-opacity="0.55" stroke="#000" stroke-opacity="0.55" stroke-width="0.7"/>
<circle cx="490.7" cy="385.4" r="1.95" fill="#000" fill-opacity="0.55" stroke="#000" stroke-opacity="0.55" stroke-width="0.7"/>
<circle cx="502.2" cy="393.4" r="1.95" fill="#000" fill-opacity="0.55" stroke="#000" stroke-opacity="0.55" stroke-width="0.7"/>
<circle cx="497.2" cy="395.4" r="1.95" fill="#000" fill-opacity="0.55" stroke="#000" stroke-opacity="0.55" stroke-width="0.7"/>
<circle cx="493.2" cy="404.8" r="1.95" fill="#000" fill-opacity="0.55" stroke="#000" stroke-opacity="0.55" stroke-width="0.7"/>
<circle cx="490.5" cy="410.1" r="1.95" fill="#000" fill-opacity="0.55" stroke="#000" stroke-opacity="0.55" stroke-width="0.7"/>
<circle cx="490" cy="422" r="1.95" fill="#000" fill-opacity="0.55" stroke="#000" stroke-opacity="0.55" stroke-width="0.7"/>
<circle cx="505.4" cy="422.8" r="1.95" fill="#000" fill-opacity="0.55" stroke="#000" stroke-opacity="0.55" stroke-width="0.7"/>
<circle cx="495.5" cy="427.8" r="1.95" fill="#000" fill-opacity="0.55" stroke="#000" stroke-opacity="0.55" stroke-width="0.7"/>
<circle cx="501.2" cy="426.5" r="1.95" fill="#000" fill-opacity="0.55" stroke="#000" stroke-opacity="0.55" stroke-width="0.7"/>
<circle cx="504.9" cy="431" r="1.95" fill="#000" fill-opacity="0.55" stroke="#000" stroke-opacity="0.55" stroke-width="0.7"/>
<circle cx="486.7" cy="435.2" r="1.95" fill="#000" fill-opacity="0.55" stroke="#000" stroke-opacity="0.55" stroke-width="0.7"/>
<circle cx="507.2" cy="436.5" r="1.95" fill="#000" fill-opacity="0.55" stroke="#000" stroke-opacity="0.55" stroke-width="0.7"/>
<circle cx="505.4" cy="438" r="1.95" fill="#000" fill-opacity="0.55" stroke="#000" stroke-opacity="0.55" stroke-width="0.7"/>
<circle cx="498" cy="439.7" r="1.95" fill="#000" fill-opacity="0.55" stroke="#000" stroke-opacity="0.55" stroke-width="0.7"/>
<circle cx="501.4" cy="441" r="1.95" fill="#000" fill-opacity="0.55" stroke="#000" stroke-opacity="0.55" stroke-width="0.7"/>
<circle cx="491" cy="443.4" r="1.95" fill="#000" fill-opacity="0.55" stroke="#000" stroke-opacity="0.55" stroke-width="0.7"/>
<circle cx="492.7" cy="443.4" r="1.95" fill="#000" fill-opacity="0.55" stroke="#000" stroke-opacity="0.55" stroke-width="0.7"/>
<circle cx="488.7" cy="447.4" r="1.95" fill="#000" fill-opacity="0.55" stroke="#000" stroke-opacity="0.55" stroke-width="0.7"/>
<circle cx="500.7" cy="465.4" r="1.95" fill="#000" fill-opacity="0.55" stroke="#000" stroke-opacity="0.55" stroke-width="0.7"/>
<circle cx="494" cy="472.6" r="1.95" fill="#000" fill-opacity="0.55" stroke="#000" stroke-opacity="0.55" stroke-width="0.7"/>
<circle cx="506.7" cy="481.6" r="1.95" fill="#000" fill-opacity="0.55" stroke="#000" stroke-opacity="0.55" stroke-width="0.7"/>
<path d="M443 486.8V489" stroke="#444444" stroke-width="1"/>
<path d="M497.4 486.8V489" stroke="#444444" stroke-width="1"/>
<text x="443" y="496.7" class="ex">Apes</text>
<text x="497.4" y="496.7" class="ex">Platyrrhines</text>
<text x="470.5" y="507.7" class="ex">Phylogenetic Group</text>
<text transform="translate(375.5 246) rotate(-90)" class="ex">Alpha diversity value</text>
<text transform="translate(384.8 246) rotate(-90)" class="ex">(mean of individuals' samples)</text>
</svg></body></html>
